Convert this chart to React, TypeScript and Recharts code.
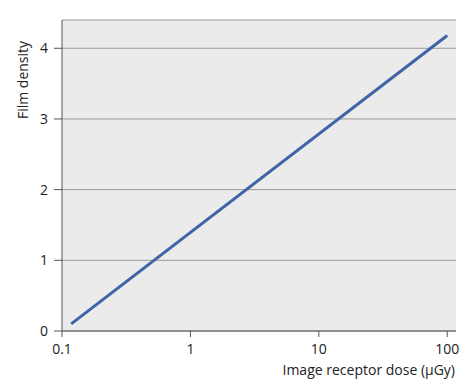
import { LineChart, Line, XAxis, YAxis, CartesianGrid } from "recharts";

// dose (µGy) vs film density
const doses = [0.118, 100];
const densities = [0.1, 4.18];
const xTicks = [0.1, 1, 10, 100];
const yTicks = [0, 1, 2, 3, 4];

const data = doses.map((d, i) => ({ dose: d, density: densities[i] }));

const FONT = "'Open Sans', sans-serif";

export default function App() {
  return (
    <div style={{ position: "absolute", left: 0, top: 0, background: "#fff" }}>
      <LineChart width={474} height={388} data={data} margin={{ top: 20, right: 18, left: 0, bottom: 0 }}>
        <CartesianGrid vertical={false} fill="#ebebeb" stroke="#9a9a9a" strokeWidth={1} />
        <XAxis
          dataKey="dose"
          type="number"
          scale="log"
          domain={[0.1, 117]}
          ticks={xTicks}
          allowDataOverflow
          height={57}
          stroke="#555"
          tickSize={6}
          tickMargin={7}
          tick={{ fontSize: 14, fill: "#222", fontFamily: FONT }}
          tickFormatter={(v: number) => String(v)}
          label={{
            content: ({ viewBox }: any) => (
              <text
                x={viewBox.x + viewBox.width - 1}
                y={viewBox.y + 44}
                textAnchor="end"
                fontSize={14}
                fill="#222"
                fontFamily={FONT}
              >
                Image receptor dose (μGy)
              </text>
            ),
          }}
        />
        <YAxis
          type="number"
          domain={[0, 4.4]}
          ticks={yTicks}
          width={62}
          stroke="#555"
          tickSize={8}
          tickMargin={6}
          tick={{ fontSize: 14, fill: "#222", fontFamily: FONT }}
          label={{
            content: () => (
              <text
                x={0}
                y={0}
                transform="translate(28, 80) rotate(-90)"
                textAnchor="middle"
                fontSize={14}
                fill="#222"
                fontFamily={FONT}
              >
                Film density
              </text>
            ),
          }}
        />
        <Line
          dataKey="density"
          stroke="#4064a8"
          strokeWidth={3}
          dot={false}
          isAnimationActive={false}
        />
      </LineChart>
    </div>
  );
}
